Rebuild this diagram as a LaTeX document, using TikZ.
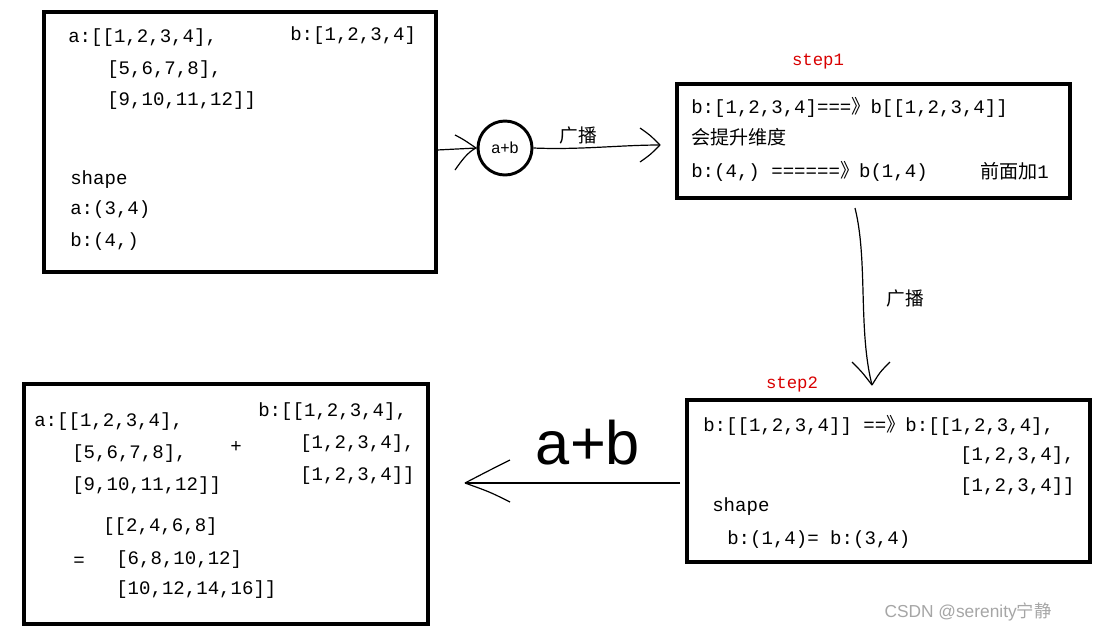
\documentclass[tikz,border=0pt]{standalone}
\usepackage{fontspec}
\newfontfamily\cjk{Noto Sans CJK SC}
\newfontfamily\lsans{Liberation Sans}
\newfontfamily\lmono{Liberation Mono}
\begin{document}
\begin{tikzpicture}[x=0.75pt,y=-0.75pt,
  box/.style={draw,line width=2.3pt},
  t/.style={anchor=west,inner sep=0pt,font=\lmono\fontsize{14.3}{16}\selectfont},
  hand/.style={line width=0.9pt},
  red/.style={anchor=center,text=red!85!black,font=\lmono\fontsize{13}{15}\selectfont}]
\useasboundingbox (0,0) rectangle (1101,633);
\fill[white] (0,0) rectangle (1101,633);
% boxes
\node[box,minimum width=392*0.75pt,minimum height=260*0.75pt] (b1) at (240,142) {};
\node[box,minimum width=393*0.75pt,minimum height=114*0.75pt] (b2) at (873.5,141) {};
\node[box,minimum width=403*0.75pt,minimum height=162*0.75pt] (b3) at (888.5,481) {};
\node[box,minimum width=404*0.75pt,minimum height=240*0.75pt] (b4) at (226,504) {};
\node[draw,circle,line width=2.2pt,minimum size=54*0.75pt,inner sep=0pt,font=\lsans\fontsize{12}{14}\selectfont] (c) at (505,148) {a+b};
% box1
\node[t] at (68,38) {a:[[1,2,3,4],};
\node[t] at (107,70) {[5,6,7,8],};
\node[t] at (107,101) {[9,10,11,12]]};
\node[t] at (290,36) {b:[1,2,3,4]};
\node[t] at (70,180) {shape};
\node[t] at (70,210) {a:(3,4)};
\node[t] at (70,242) {b:(4,)};
% box2
\node[t] at (691,107) {b:[1,2,3,4]==={\cjk 》}b[[1,2,3,4]]};
\node[t] at (691,137) {\cjk 会提升维度};
\node[t] at (691,171) {b:(4,) ======{\cjk 》}b(1,4)};
\node[t] at (980,171) {{\cjk 前面加}1};
% box3
\node[t] at (703,425) {b:[[1,2,3,4]] =={\cjk 》}b:[[1,2,3,4],};
\node[t] at (960,456) {[1,2,3,4],};
\node[t] at (960,487) {[1,2,3,4]]};
\node[t] at (712,507) {shape};
\node[t] at (727,540) {b:(1,4)= b:(3,4)};
% box4
\node[t] at (34,422) {a:[[1,2,3,4],};
\node[t] at (72,454) {[5,6,7,8],};
\node[t] at (72,486) {[9,10,11,12]]};
\node[t] at (230,447) {+};
\node[t] at (258,412) {b:[[1,2,3,4],};
\node[t] at (300,444) {[1,2,3,4],};
\node[t] at (300,476) {[1,2,3,4]]};
\node[t] at (103,527) {[[2,4,6,8]};
\node[t] at (73,562) {=};
\node[t] at (116,560) {[6,8,10,12]};
\node[t] at (116,590) {[10,12,14,16]]};
% labels
\node[red] (s1) at (818,62) {step1};
\node[red] (s2) at (792,384) {step2};
\node[font=\cjk\fontsize{14}{16}\selectfont] (l1) at (578,135) {广播};
\node[font=\cjk\fontsize{14}{16}\selectfont] (l2) at (905,298) {广播};
\node[font=\lsans\fontsize{46}{48}\selectfont] (l3) at (588,443) {a+b};
\node[text=gray!70,font=\lsans\fontsize{13}{15}\selectfont] (wm) at (968,612) {CSDN @serenity{\cjk 宁静}};
% connectors (hand drawn)
\draw[hand] (437,150) -- (c.west);
\draw[hand] (455,170) .. controls (462,160) and (468,152) .. (476,148);
\draw[hand] (455,135) .. controls (465,140) and (470,144) .. (476,148);
\draw[hand] (c.east) .. controls (580,150) and (620,145) .. (660,145);
\draw[hand] (640,128) .. controls (650,135) .. (660,145);
\draw[hand] (640,162) .. controls (650,155) .. (660,145);
\draw[hand] (855,208) .. controls (868,260) and (858,330) .. (872,385);
\draw[hand] (852,362) .. controls (862,372) .. (872,385);
\draw[hand] (890,362) .. controls (880,372) .. (872,385);
\draw[hand] (680,483) -- (465,483);
\draw[hand] (510,460) .. controls (490,470) .. (465,483);
\draw[hand] (510,502) .. controls (490,492) .. (465,483);
\end{tikzpicture}
\end{document}
